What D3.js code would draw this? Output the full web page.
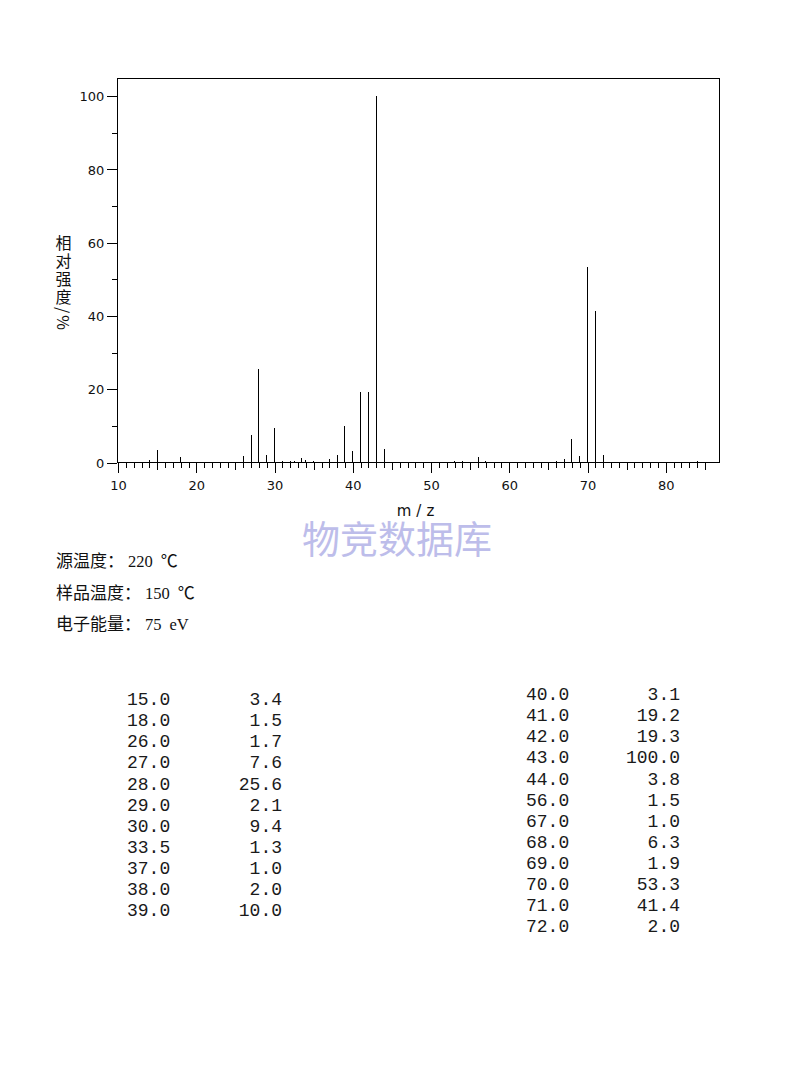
<!DOCTYPE html>
<html>
<head>
<meta charset="utf-8">
<script src="https://cdn.jsdelivr.net/npm/d3@7"></script>
<style>
  html, body { margin: 0; padding: 0; background: #fff; }
  svg { display: block; }
</style>
</head>
<body>
<script>
// ---- data ----
const peakMz = [14, 15, 18, 26, 27, 28, 29, 30, 31, 32, 32.5, 33.5, 34, 35, 37, 38, 39, 40, 41, 42, 43, 44, 53, 54, 56, 57, 66, 67, 68, 69, 70, 71, 72, 84];
const peakIntensity = [0.6, 3.4, 1.5, 1.7, 7.6, 25.6, 2.1, 9.4, 0.4, 0.3, 0.4, 1.3, 0.8, 0.4, 1.0, 2.0, 10.0, 3.1, 19.2, 19.3, 100.0, 3.8, 0.4, 0.5, 1.5, 0.5, 0.4, 1.0, 6.3, 1.9, 53.3, 41.4, 2.0, 0.5];

const xTickValues = d3.range(10, 86);
const yTickValues = d3.range(0, 101, 10);

const tableLeftMz = ["15.0", "18.0", "26.0", "27.0", "28.0", "29.0", "30.0", "33.5", "37.0", "38.0", "39.0"];
const tableLeftInt = ["3.4", "1.5", "1.7", "7.6", "25.6", "2.1", "9.4", "1.3", "1.0", "2.0", "10.0"];
const tableRightMz = ["40.0", "41.0", "42.0", "43.0", "44.0", "56.0", "67.0", "68.0", "69.0", "70.0", "71.0", "72.0"];
const tableRightInt = ["3.1", "19.2", "19.3", "100.0", "3.8", "1.5", "1.0", "6.3", "1.9", "53.3", "41.4", "2.0"];

const infoLabels = ["源温度：", "样品温度：", "电子能量："];
const infoValues = ["220", "150", "75"];
const infoUnits = ["℃", "℃", "eV"];
const yLabel = "相对强度/%";
const xLabel = "m/z";
const watermark = "物竞数据库";

// ---- layout ----
const W = 794, H = 1077;
const plot = { left: 117.3, right: 719, top: 78.3, bottom: 462.5 };

const svg = d3.select("body").append("svg").attr("width", W).attr("height", H);
svg.append("rect").attr("width", W).attr("height", H).attr("fill", "#fff");

const x = d3.scaleLinear().domain([9.9, 86.8]).range([plot.left, plot.right]);
const y = d3.scaleLinear().domain([0, 104.9]).range([plot.bottom, plot.top]);

// frame
svg.append("rect")
  .attr("x", plot.left).attr("y", plot.top)
  .attr("width", plot.right - plot.left).attr("height", plot.bottom - plot.top)
  .attr("fill", "none").attr("stroke", "#000").attr("stroke-width", 1)
  .attr("shape-rendering", "crispEdges");

// peaks
svg.append("g").selectAll("line").data(peakMz).join("line")
  .attr("x1", d => x(d)).attr("x2", d => x(d))
  .attr("y1", y(0)).attr("y2", (d, i) => y(peakIntensity[i]))
  .attr("stroke", "#000").attr("stroke-width", 1)
  .attr("shape-rendering", "crispEdges");

// x axis
const xAxis = d3.axisBottom(x).tickValues(xTickValues).tickSize(5)
  .tickFormat(d => d % 10 === 0 ? d : "");
const gx = svg.append("g").attr("transform", `translate(0,${plot.bottom})`).call(xAxis);
gx.select(".domain").remove();
gx.selectAll(".tick line")
  .attr("y2", d => d % 10 === 0 ? 10 : (d % 5 === 0 ? 7 : 5))
  .attr("stroke", "#000").attr("shape-rendering", "crispEdges");
gx.selectAll(".tick text")
  .attr("y", 27.5).attr("dy", 0)
  .attr("font-family", "DejaVu Sans").attr("font-size", 13).attr("fill", "#111");

// y axis
const yAxis = d3.axisLeft(y).tickValues(yTickValues).tickSize(5)
  .tickFormat(d => d % 20 === 0 ? d : "");
const gy = svg.append("g").attr("transform", `translate(${plot.left},0)`).call(yAxis);
gy.select(".domain").remove();
gy.selectAll(".tick line")
  .attr("x2", d => d % 20 === 0 ? -10 : -5)
  .attr("stroke", "#000").attr("shape-rendering", "crispEdges");
gy.selectAll(".tick text")
  .attr("x", -13).attr("dy", "0.36em")
  .attr("font-family", "DejaVu Sans").attr("font-size", 13).attr("fill", "#111");

// x label
svg.append("text").attr("x", 418).attr("y", 516).attr("text-anchor", "middle")
  .attr("font-family", "DejaVu Sans").attr("font-size", 15).attr("letter-spacing", 5)
  .attr("fill", "#111").text(xLabel);

// y label (vertical writing)
svg.append("text")
  .attr("x", 63.5).attr("y", 235)
  .style("writing-mode", "vertical-rl")
  .style("text-orientation", "mixed")
  .attr("letter-spacing", 2)
  .attr("font-family", "Noto Sans CJK SC").attr("font-size", 16).attr("fill", "#111")
  .text(yLabel);

// watermark
svg.append("text").attr("x", 397).attr("y", 553).attr("text-anchor", "middle")
  .attr("font-family", "Noto Sans CJK SC").attr("font-size", 38).attr("font-weight", 400)
  .attr("fill", "#bdbdea").text(watermark);

// info lines
const info = svg.append("g").attr("fill", "#111");
infoLabels.forEach((lab, i) => {
  const t = info.append("text").attr("x", 56).attr("y", 567 + i * 31.5);
  t.append("tspan").attr("font-family", "Noto Sans CJK SC").attr("font-size", 17).text(lab);
  t.append("tspan").attr("dx", 4).attr("font-family", "Liberation Serif").attr("font-size", 16.5)
    .text(infoValues[i]);
  if (infoUnits[i] === "℃") {
    t.append("tspan").attr("dx", 8).attr("font-family", "Noto Sans CJK SC").attr("font-size", 17)
      .text(infoUnits[i]);
  } else {
    t.append("tspan").attr("dx", 8).attr("font-family", "Liberation Serif").attr("font-size", 16.5)
      .text(infoUnits[i]);
  }
});

// tables
function drawTable(mz, vals, xStart, xEnd, y0) {
  const g = svg.append("g").attr("font-family", "Liberation Mono").attr("font-size", 18).attr("fill", "#1a1a1a");
  g.selectAll("text.mz").data(mz).join("text").attr("class", "mz")
    .attr("x", xStart).attr("y", (d, i) => y0 + i * 21.05).attr("dy", "0.35em").text(d => d);
  g.selectAll("text.v").data(vals).join("text").attr("class", "v")
    .attr("x", xEnd).attr("y", (d, i) => y0 + i * 21.05).attr("dy", "0.35em")
    .attr("text-anchor", "end").text(d => d);
}
drawTable(tableLeftMz, tableLeftInt, 127, 282, 699);
drawTable(tableRightMz, tableRightInt, 526, 680, 694);
</script>
</body>
</html>
